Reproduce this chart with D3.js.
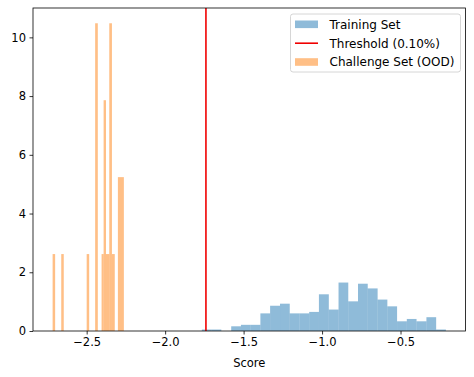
<!DOCTYPE html>
<html>
<head>
<meta charset="utf-8">
<script src="https://cdn.jsdelivr.net/npm/d3@7"></script>
<style>
  html, body { margin: 0; padding: 0; background: #fff; }
  svg { display: block; font-family: "DejaVu Sans", sans-serif; }
</style>
</head>
<body>
<svg id="chart" width="474" height="377"></svg>
<script>
// ---- data ----
const trainEdges = [-1.766, -1.704, -1.642, -1.579, -1.517, -1.455, -1.393, -1.331, -1.268,
  -1.206, -1.144, -1.082, -1.020, -0.957, -0.895, -0.833, -0.771, -0.709, -0.646, -0.584,
  -0.522, -0.460, -0.398, -0.335, -0.273, -0.211];
const trainDensity = [0.05, 0.05, 0, 0.16, 0.21, 0.21, 0.60, 0.86, 0.93, 0.60, 0.60, 0.65,
  1.25, 0.73, 1.65, 1.01, 1.61, 1.45, 1.07, 0.84, 0.33, 0.41, 0.33, 0.47, 0.05];

const oodLeft    = [-2.717, -2.662, -2.500, -2.446, -2.405, -2.392, -2.377, -2.356, -2.339, -2.301];
const oodRight   = [-2.701, -2.646, -2.484, -2.429, -2.392, -2.377, -2.356, -2.339, -2.321, -2.263];
const oodDensity = [2.62, 2.62, 2.62, 10.48, 2.62, 7.86, 2.62, 10.48, 2.62, 5.24];

const threshold = -1.740;

const xTicks = [-2.5, -2.0, -1.5, -1.0, -0.5];
const yTicks = [0, 2, 4, 6, 8, 10];
const xDomain = [-2.842, -0.086];
const yDomain = [0, 11.0];

const legendLabels = ["Training Set", "Threshold (0.10%)", "Challenge Set (OOD)"];
const xLabel = "Score";

// ---- layout ----
const W = 474, H = 377;
const margin = {left: 33, right: 8.5, top: 8, bottom: 46};
const fs = 11.5, lfs = 12;
const blue = "#1f77b4", orange = "#ff7f0e", red = "#f00000";

const svg = d3.select("#chart");
const x = d3.scaleLinear().domain(xDomain).range([margin.left, W - margin.right]);
const y = d3.scaleLinear().domain(yDomain).range([H - margin.bottom, margin.top]);

svg.append("defs").append("clipPath").attr("id", "clip")
  .append("rect").attr("x", margin.left).attr("y", margin.top)
  .attr("width", W - margin.left - margin.right).attr("height", H - margin.top - margin.bottom);

const plot = svg.append("g").attr("clip-path", "url(#clip)");

// training histogram
const trainBins = trainDensity.map((d, i) => ({x0: trainEdges[i], x1: trainEdges[i + 1], v: d}));
plot.append("g").selectAll("rect").data(trainBins.filter(b => b.v > 0)).join("rect")
  .attr("x", d => x(d.x0)).attr("width", d => x(d.x1) - x(d.x0))
  .attr("y", d => y(d.v)).attr("height", d => y(0) - y(d.v))
  .attr("fill", blue).attr("fill-opacity", 0.5);

// threshold
plot.append("line").attr("x1", x(threshold)).attr("x2", x(threshold))
  .attr("y1", y(yDomain[0])).attr("y2", y(yDomain[1]))
  .attr("stroke", red).attr("stroke-width", 1.6);

// challenge histogram
const oodBins = oodDensity.map((d, i) => ({x0: oodLeft[i], x1: oodRight[i], v: d}));
plot.append("g").selectAll("rect").data(oodBins).join("rect")
  .attr("x", d => x(d.x0)).attr("width", d => x(d.x1) - x(d.x0))
  .attr("y", d => y(d.v)).attr("height", d => y(0) - y(d.v))
  .attr("fill", orange).attr("fill-opacity", 0.5);

// axes
const fmt = d => (d < 0 ? "\u2212" : "") + Math.abs(d).toFixed(1);
const xAxis = svg.append("g").attr("transform", `translate(0,${H - margin.bottom})`)
  .call(d3.axisBottom(x).tickValues(xTicks).tickFormat(fmt).tickSize(3.5).tickPadding(3.5));
const yAxis = svg.append("g").attr("transform", `translate(${margin.left},0)`)
  .call(d3.axisLeft(y).tickValues(yTicks).tickFormat(d3.format("d")).tickSize(3.5).tickPadding(3.5));
[xAxis, yAxis].forEach(a => {
  a.select(".domain").remove();
  a.selectAll("text").attr("font-size", fs).attr("font-family", "DejaVu Sans").attr("fill", "#000");
  a.selectAll("line").attr("stroke", "#000").attr("stroke-width", 0.8);
});

// frame
svg.append("rect").attr("x", margin.left).attr("y", margin.top)
  .attr("width", W - margin.left - margin.right).attr("height", H - margin.top - margin.bottom)
  .attr("fill", "none").attr("stroke", "#000").attr("stroke-width", 0.8);

// x label
svg.append("text").attr("x", (margin.left + W - margin.right) / 2).attr("y", 366.5)
  .attr("text-anchor", "middle").attr("font-size", fs).attr("fill", "#000").text(xLabel);

// legend
const lg = svg.append("g");
lg.append("rect").attr("x", 290.5).attr("y", 14).attr("width", 170).attr("height", 58)
  .attr("rx", 2.5).attr("fill", "#fff").attr("fill-opacity", 0.8)
  .attr("stroke", "#cccccc").attr("stroke-width", 0.8);
const rowY = [24.3, 43.2, 62];
legendLabels.forEach((t, i) => {
  if (i === 1) {
    lg.append("line").attr("x1", 295).attr("x2", 318).attr("y1", rowY[i]).attr("y2", rowY[i])
      .attr("stroke", red).attr("stroke-width", 1.6);
  } else {
    lg.append("rect").attr("x", 295).attr("y", rowY[i] - 3.8).attr("width", 23).attr("height", 7.6)
      .attr("fill", i === 0 ? blue : orange).attr("fill-opacity", 0.5);
  }
  lg.append("text").attr("x", 329.5).attr("y", rowY[i]).attr("dy", "0.36em")
    .attr("font-size", lfs).attr("fill", "#000").text(t);
});
</script>
</body>
</html>
